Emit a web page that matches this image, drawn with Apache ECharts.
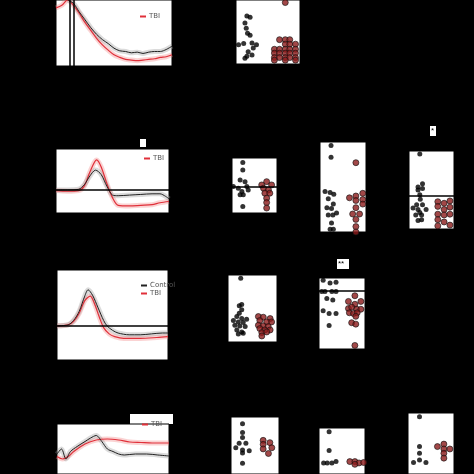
<!DOCTYPE html>
<html><head><meta charset="utf-8">
<script src="https://cdn.jsdelivr.net/npm/echarts@6/dist/echarts.min.js"></script>
<style>html,body{margin:0;background:#000}#c{width:474px;height:474px}</style>
</head><body><div id="c"></div>
<script>
// ---- line panels: [x, y] (x 0..100, y panel units) ----
const L1_ctrl=[[10,100],[15,95],[20,82],[25,70],[30,58],[35,48],[40,40],[45,34],[50,27],[55,23],[60,22],[65,20],[70,21],[75,19],[80,21],[85,22],[90,22],[95,25],[100,30]];
const L1_tbi=[[0,88],[5,92],[10,100],[15,92],[20,80],[25,66],[30,54],[35,42],[40,32],[45,24],[50,17],[55,13],[60,10],[65,9],[70,8],[75,9],[80,10],[85,11],[90,13],[95,14],[100,17]];
const L2_ctrl=[[0,0],[10,0],[20,1],[25,8],[30,22],[35,31],[40,24],[45,6],[50,-8],[55,-9],[65,-8],[75,-7],[85,-6],[92,-6],[97,-10],[100,-14]];
const L2_tbi=[[0,-1],[10,-2],[20,-1],[25,6],[30,28],[36,47],[40,36],[45,10],[50,-12],[55,-24],[65,-25],[75,-24],[85,-23],[92,-20],[100,-18]];
const L3_ctrl=[[0,0],[10,1],[15,6],[20,16],[25,33],[28,40],[32,34],[37,20],[42,6],[45,0],[50,-5],[55,-8],[65,-10],[75,-10],[85,-9],[95,-8],[100,-8]];
const L3_tbi=[[0,0],[10,1],[15,5],[20,14],[25,28],[30,33],[34,24],[38,10],[42,-2],[47,-9],[52,-12],[60,-14],[75,-14],[90,-13],[100,-12]];
const L4_ctrl=[[0,40],[4,50],[8,30],[12,45],[18,55],[25,65],[30,72],[35,77],[40,65],[45,50],[50,45],[55,40],[60,38],[70,40],[80,40],[90,38],[100,36]];
const L4_tbi=[[0,35],[5,30],[10,35],[15,45],[25,60],[35,68],[45,70],[55,68],[65,64],[75,63],[85,62],[100,62]];
// ---- dot panels: [x%, y%] ----
const S1_ctrl=[[17,75],[22,73],[14,64],[16,56],[18,48],[22,45],[12,32],[4,30],[25,33],[32,30],[27,25],[19,19],[17,12],[25,14],[14,9]];
const S1_tbi=[[77,96],[68,38],[77,38],[84,38],[77,31],[84,31],[93,31],[60,23],[68,23],[77,23],[84,23],[93,23],[60,17],[68,17],[77,17],[84,17],[93,17],[60,10],[68,10],[77,10],[84,10],[93,10],[60,6],[77,6],[93,6]];
const S2a_ctrl=[[24,92],[24,78],[18,60],[29,57],[3,48],[14,45],[33,48],[22,39],[36,42],[25,33],[18,33],[24,12]];
const S2a_tbi=[[77,57],[66,51],[88,51],[70,45],[81,42],[73,36],[84,36],[77,27],[77,19],[77,9]];
const S2b_ctrl=[[24,96],[24,83],[11,45],[22,44],[30,42],[18,37],[29,31],[15,27],[25,26],[36,21],[18,19],[28,19],[25,10],[22,3],[29,3]];
const S2b_tbi=[[78,77],[64,38],[78,40],[93,43],[93,36],[78,35],[93,31],[78,27],[71,20],[86,20],[78,14],[78,6],[78,0]];
const S2c_ctrl=[[24,96],[30,58],[20,54],[30,52],[20,50],[24,44],[25,38],[17,31],[30,31],[9,27],[20,25],[38,25],[24,21],[15,18],[28,18],[20,11],[28,12]];
const S2c_tbi=[[64,35],[64,29],[64,19],[64,12],[64,4],[78,33],[78,25],[78,18],[78,9],[91,36],[91,28],[91,19],[91,5]];
const S3a_ctrl=[[26,95],[28,56],[23,54],[28,48],[23,43],[18,38],[28,35],[38,34],[11,32],[21,30],[31,29],[14,25],[24,24],[35,23],[18,18],[28,15],[21,12],[31,13]];
const S3a_tbi=[[62,38],[72,37],[86,35],[65,32],[79,30],[89,30],[62,25],[72,24],[82,23],[65,20],[75,18],[86,18],[69,14],[79,15],[69,9]];
const S3b_ctrl=[[9,97],[24,93],[37,94],[6,81],[13,81],[28,81],[37,81],[17,71],[30,69],[9,54],[22,50],[37,50],[22,33]];
const S3b_tbi=[[78,75],[64,67],[78,63],[91,67],[64,57],[71,59],[82,56],[91,56],[66,51],[75,50],[83,51],[80,46],[71,37],[80,35],[78,5]];
const S4a_ctrl=[[24,88],[24,73],[24,64],[17,54],[10,46],[31,54],[24,42],[38,41],[24,37],[24,19]];
const S4a_tbi=[[67,59],[81,55],[67,52],[85,46],[67,44],[78,36]];
const S4b_ctrl=[[22,92],[22,51],[10,24],[18,24],[28,24],[37,27]];
const S4b_tbi=[[67,27],[78,27],[87,24],[97,25],[78,21]];
const S4c_ctrl=[[25,94],[25,45],[25,34],[25,23],[12,19],[39,19]];
const S4c_tbi=[[64,45],[78,49],[78,41],[91,41],[78,34],[78,26]];
const means={S2a:48,S2c:43,S3b:82};
const legendNames=['Control','TBI'];

const grids=[],xA=[],yA=[],series=[];
function grid(l,t,w,h,xr,yr){grids.push({left:l,top:t,width:w,height:h,show:true,backgroundColor:'#fff',borderColor:'#000',borderWidth:1});
 const i=grids.length-1;
 xA.push({type:'value',gridIndex:i,min:xr[0],max:xr[1],show:false});
 yA.push({type:'value',gridIndex:i,min:yr[0],max:yr[1],show:false});return i;}
function linePanel(g,c,t,base,vlines){
 const common={type:'line',xAxisIndex:g,yAxisIndex:g,showSymbol:false,smooth:0.3,silent:true};
 series.push({...common,data:t,lineStyle:{color:'#f08080',width:5,opacity:0.35}});
 series.push({...common,data:c,lineStyle:{color:'#999',width:5,opacity:0.35}});
 const ml=[];
 if(base)ml.push({yAxis:0});
 (vlines||[]).forEach(v=>ml.push({xAxis:v}));
 series.push({...common,name:'TBI',data:t,itemStyle:{color:'#e0303a'},lineStyle:{color:'#e0303a',width:1.2}});
 series.push({...common,name:'Control',data:c,itemStyle:{color:'#222'},lineStyle:{color:'#222',width:1},
  markLine:ml.length?{symbol:'none',silent:true,label:{show:false},lineStyle:{color:'#000',width:1.5,type:'solid'},data:ml}:undefined});
}
function dotPanel(g,c,t,mean){
 series.push({type:'scatter',xAxisIndex:g,yAxisIndex:g,data:c,symbolSize:5,itemStyle:{color:'#000'},silent:true,
  markLine:mean!=null?{symbol:'none',silent:true,label:{show:false},lineStyle:{color:'#000',width:1.5,type:'solid'},data:[{yAxis:mean}]}:undefined});
 series.push({type:'scatter',xAxisIndex:g,yAxisIndex:g,data:t,symbolSize:6,itemStyle:{color:'#8b1a1a',borderColor:'#111',borderWidth:0.8},silent:true});
}
let g;
g=grid(56,0,116,66,[0,100],[0,100]);linePanel(g,L1_ctrl,L1_tbi,false,[12,15.5]);
g=grid(56,149,113,64,[0,100],[-36,64]);linePanel(g,L2_ctrl,L2_tbi,true);
g=grid(57,270,111,90,[0,100],[-38,62]);linePanel(g,L3_ctrl,L3_tbi,true);
g=grid(57,424,112,60,[0,100],[0,100]);linePanel(g,L4_ctrl,L4_tbi,false);
g=grid(236,0,64,64,[0,100],[0,100]);dotPanel(g,S1_ctrl,S1_tbi);
g=grid(232,158,45,55,[0,100],[0,100]);dotPanel(g,S2a_ctrl,S2a_tbi,means.S2a);
g=grid(320,142,46,90,[0,100],[0,100]);dotPanel(g,S2b_ctrl,S2b_tbi);
g=grid(409,151,45,78,[0,100],[0,100]);dotPanel(g,S2c_ctrl,S2c_tbi,means.S2c);
g=grid(228,275,49,67,[0,100],[0,100]);dotPanel(g,S3a_ctrl,S3a_tbi);
g=grid(319,278,46,71,[0,100],[0,100]);dotPanel(g,S3b_ctrl,S3b_tbi,means.S3b);
g=grid(231,417,48,66,[0,100],[0,100]);dotPanel(g,S4a_ctrl,S4a_tbi);
g=grid(319,428,46,55,[0,100],[0,100]);dotPanel(g,S4b_ctrl,S4b_tbi);
g=grid(408,413,46,70,[0,100],[0,100]);dotPanel(g,S4c_ctrl,S4c_tbi);

const leg=(l,t,names)=>({left:l,top:t,orient:'vertical',itemWidth:6,itemHeight:2,itemGap:1,icon:'rect',data:names,
 textStyle:{fontSize:7,color:'#555',fontFamily:'DejaVu Sans',padding:[0,0,0,-2]},selectedMode:false});
const chart=echarts.init(document.getElementById('c'));
chart.setOption({backgroundColor:'#000',animation:false,grid:grids,xAxis:xA,yAxis:yA,series,
 legend:[leg(135,8,[legendNames[1]]),leg(139,150,[legendNames[1]]),leg(136,277,legendNames),leg(137,416,[legendNames[1]])],
 graphic:[
  {type:'rect',shape:{x:130,y:414,width:43,height:10},style:{fill:'#fff'},z:-1},
  {type:'rect',shape:{x:140,y:139,width:6,height:8},style:{fill:'#fff'}},
  {type:'rect',shape:{x:430,y:126,width:6,height:10},style:{fill:'#fff'}},
  {type:'text',left:431,top:127,style:{text:'*',fontSize:8,fill:'#000'}},
  {type:'rect',shape:{x:337,y:259,width:12,height:10},style:{fill:'#fff'}},
  {type:'text',left:338,top:260,style:{text:'**',fontSize:8,fill:'#000'}}
 ]});
</script></body></html>
